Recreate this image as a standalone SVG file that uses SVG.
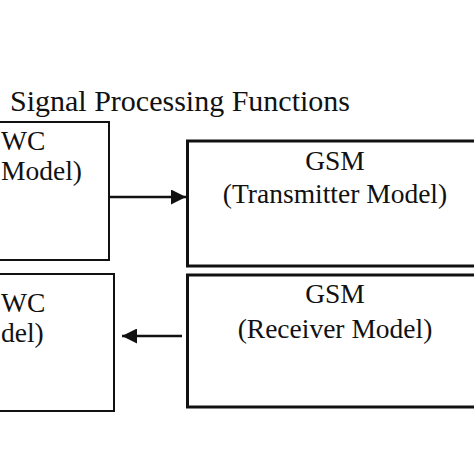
<svg xmlns="http://www.w3.org/2000/svg" width="474" height="474" viewBox="0 0 474 474">
<defs>
<style>
.box{fill:#fff;stroke:#111;stroke-width:2}
.boxr{fill:#fff;stroke:#111;stroke-width:3}
.t{font-family:"Liberation Serif","Times New Roman",serif;font-size:27.5px;fill:#111}
.c{text-anchor:middle}
.ln{stroke:#111;stroke-width:2.6;fill:none}
</style>
<marker id="ah" viewBox="0 0 15 15" refX="15" refY="7.5" markerWidth="15" markerHeight="15" markerUnits="userSpaceOnUse" orient="auto">
<path d="M0,0 L15,7.5 L0,15 Z" fill="#111"/>
</marker>
</defs>
<rect width="474" height="474" fill="#fff"/>
<text class="t" x="10" y="111" style="font-size:30px">Signal Processing Functions</text>
<g id="tx-left">
<rect class="box" x="-10" y="122" width="119" height="138"/>
<text class="t" x="1" y="150">WC</text>
<text class="t" x="1" y="180">Model)</text>
</g>
<g id="gsm-tx">
<rect class="boxr" x="187.5" y="141" width="300" height="125"/>
<text class="t c" x="335" y="170">GSM</text>
<text class="t c" x="335" y="203">(Transmitter Model)</text>
</g>
<g id="rx-left">
<rect class="box" x="-10" y="274" width="124" height="137"/>
<text class="t" x="1" y="312">WC</text>
<text class="t" x="1" y="342">del)</text>
</g>
<g id="gsm-rx">
<rect class="boxr" x="187.5" y="275" width="300" height="132"/>
<text class="t c" x="335" y="303">GSM</text>
<text class="t c" x="335" y="338">(Receiver Model)</text>
</g>
<g id="connectors">
<line class="ln" x1="110" y1="197" x2="186" y2="197" marker-end="url(#ah)"/>
<line class="ln" x1="182" y1="336" x2="122" y2="336" marker-end="url(#ah)"/>
</g>
</svg>
